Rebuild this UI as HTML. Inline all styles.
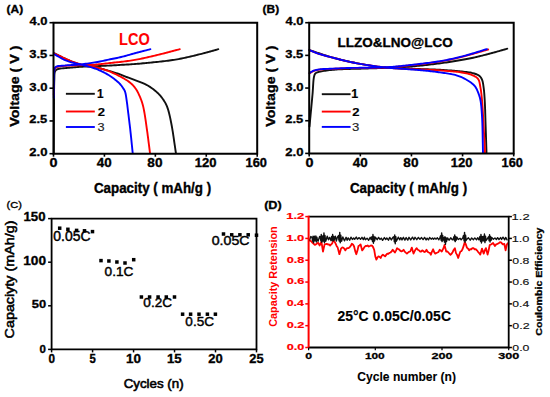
<!DOCTYPE html><html><head><meta charset="utf-8"><style>html,body{margin:0;padding:0;background:#fff;}svg{display:block;font-family:"Liberation Sans",sans-serif;}</style></head><body>
<svg width="550" height="397" viewBox="0 0 550 397">
<rect width="550" height="397" fill="#fff"/>
<path d="M53.80,53.00 L55.05,53.63 L56.30,54.28 L57.53,54.92 L58.77,55.57 L60.01,56.21 L61.25,56.85 L62.51,57.48 L63.78,58.10 L65.08,58.71 L66.40,59.30 L67.72,59.87 L69.07,60.45 L70.44,61.03 L71.82,61.60 L73.22,62.16 L74.63,62.70 L76.04,63.23 L77.45,63.72 L78.85,64.19 L80.23,64.62 L81.60,65.00 L82.96,65.33 L84.30,65.60 L85.64,65.82 L86.97,66.02 L88.29,66.19 L89.62,66.35 L90.95,66.52 L92.29,66.71 L93.64,66.93 L95.00,67.20 L96.35,67.50 L97.73,67.83 L99.13,68.17 L100.53,68.53 L101.95,68.91 L103.35,69.29 L104.75,69.68 L106.12,70.07 L107.45,70.46 L108.75,70.83 L110.00,71.20 L111.57,71.67 L113.11,72.13 L114.62,72.60 L116.07,73.07 L117.46,73.52 L118.77,73.97 L120.00,74.40 L121.34,74.90 L122.50,75.38 L123.67,75.87 L125.00,76.40 L126.08,76.81 L127.26,77.24 L128.50,77.70 L129.78,78.16 L131.10,78.64 L132.42,79.13 L133.73,79.61 L135.00,80.10 L136.29,80.60 L137.61,81.11 L138.96,81.63 L140.29,82.15 L141.59,82.67 L142.84,83.19 L144.02,83.70 L145.10,84.20 L146.47,84.87 L147.70,85.52 L148.85,86.19 L150.00,86.90 L151.15,87.67 L152.28,88.47 L153.39,89.31 L154.50,90.20 L155.48,91.02 L156.47,91.88 L157.45,92.77 L158.40,93.68 L159.30,94.60 L160.30,95.71 L161.25,96.85 L162.14,98.01 L163.00,99.20 L163.82,100.40 L164.59,101.63 L165.32,102.89 L166.00,104.20 L166.52,105.32 L166.99,106.44 L167.43,107.62 L167.86,108.89 L168.30,110.30 L168.61,111.37 L168.92,112.51 L169.22,113.71 L169.52,114.96 L169.82,116.27 L170.12,117.62 L170.42,119.02 L170.72,120.47 L171.01,121.95 L171.31,123.46 L171.60,125.00 L171.83,126.26 L172.06,127.57 L172.29,128.91 L172.52,130.30 L172.75,131.72 L172.98,133.17 L173.20,134.65 L173.43,136.15 L173.65,137.67 L173.88,139.20 L174.10,140.75 L174.33,142.30 L174.55,143.85 L174.78,145.40 L175.00,146.95 L175.22,148.48 L175.45,150.01 L175.67,151.51 L175.90,153.00" fill="none" stroke="#111111" stroke-width="1.9" stroke-linejoin="round" stroke-linecap="round"/>
<path d="M53.80,153.00 L53.81,151.51 L53.81,150.02 L53.82,148.51 L53.83,147.01 L53.83,145.49 L53.84,143.97 L53.84,142.45 L53.85,140.93 L53.86,139.40 L53.86,137.87 L53.87,136.34 L53.87,134.82 L53.88,133.30 L53.89,131.78 L53.89,130.26 L53.90,128.75 L53.90,127.24 L53.91,125.75 L53.92,124.26 L53.93,122.78 L53.93,121.30 L53.94,119.84 L53.95,118.39 L53.96,116.96 L53.96,115.54 L53.97,114.13 L53.98,112.73 L53.99,111.36 L54.00,110.00 L54.01,108.44 L54.02,106.86 L54.02,105.27 L54.03,103.68 L54.03,102.09 L54.04,100.50 L54.04,98.92 L54.05,97.35 L54.05,95.80 L54.06,94.27 L54.06,92.77 L54.07,91.29 L54.08,89.85 L54.10,88.44 L54.11,87.08 L54.13,85.76 L54.16,84.49 L54.19,83.28 L54.22,82.12 L54.26,81.03 L54.30,80.00 L54.36,78.21 L54.38,76.55 L54.41,75.04 L54.50,73.68 L54.68,72.50 L55.00,71.50 L55.78,70.26 L57.00,69.40 L57.94,69.03 L59.10,68.76 L60.43,68.56 L61.89,68.41 L63.41,68.28 L64.97,68.15 L66.50,68.00 L67.83,67.85 L69.22,67.71 L70.66,67.58 L72.13,67.45 L73.62,67.33 L75.13,67.21 L76.65,67.10 L78.15,66.99 L79.64,66.89 L81.10,66.80 L82.50,66.72 L83.89,66.65 L85.27,66.58 L86.65,66.52 L88.03,66.47 L89.41,66.42 L90.79,66.37 L92.19,66.32 L93.59,66.26 L95.00,66.20 L96.34,66.14 L97.67,66.08 L99.00,66.03 L100.32,65.97 L101.66,65.91 L103.00,65.85 L104.37,65.79 L105.77,65.72 L107.20,65.65 L108.68,65.58 L110.20,65.50 L111.52,65.43 L112.92,65.35 L114.39,65.27 L115.91,65.19 L117.47,65.10 L119.06,65.01 L120.66,64.91 L122.27,64.82 L123.88,64.72 L125.46,64.63 L127.01,64.53 L128.52,64.44 L129.98,64.34 L131.36,64.25 L132.67,64.16 L133.89,64.08 L135.00,64.00 L136.53,63.89 L137.80,63.79 L138.94,63.69 L140.10,63.58 L141.41,63.46 L143.00,63.30 L144.03,63.20 L145.15,63.09 L146.35,62.97 L147.63,62.85 L148.98,62.72 L150.39,62.59 L151.85,62.45 L153.37,62.30 L154.92,62.15 L156.51,61.99 L158.12,61.82 L159.75,61.65 L161.40,61.47 L163.04,61.28 L164.69,61.09 L166.32,60.90 L167.94,60.70 L169.53,60.49 L171.09,60.27 L172.61,60.05 L174.08,59.83 L175.50,59.60 L177.04,59.34 L178.57,59.06 L180.10,58.77 L181.62,58.47 L183.14,58.16 L184.65,57.84 L186.15,57.51 L187.64,57.18 L189.12,56.84 L190.58,56.50 L192.02,56.16 L193.45,55.81 L194.87,55.47 L196.26,55.13 L197.63,54.79 L198.98,54.45 L200.30,54.12 L201.60,53.80 L203.13,53.41 L204.61,53.03 L206.05,52.65 L207.45,52.26 L208.83,51.88 L210.19,51.50 L211.54,51.11 L212.88,50.73 L214.22,50.35 L215.56,49.97 L216.92,49.58 L218.30,49.20" fill="none" stroke="#111111" stroke-width="1.9" stroke-linejoin="round" stroke-linecap="round"/>
<path d="M53.80,53.30 L55.14,53.90 L56.51,54.53 L57.89,55.17 L59.27,55.81 L60.66,56.47 L62.06,57.12 L63.44,57.77 L64.82,58.40 L66.19,59.03 L67.53,59.63 L68.85,60.21 L70.14,60.76 L71.40,61.28 L72.62,61.76 L73.80,62.20 L75.34,62.73 L76.81,63.20 L78.23,63.62 L79.61,64.00 L80.96,64.35 L82.30,64.68 L83.64,64.99 L85.00,65.30 L86.45,65.61 L87.89,65.87 L89.32,66.10 L90.74,66.32 L92.16,66.55 L93.58,66.81 L95.00,67.10 L96.44,67.43 L97.87,67.77 L99.30,68.13 L100.73,68.51 L102.16,68.91 L103.58,69.34 L105.00,69.80 L106.26,70.24 L107.52,70.70 L108.78,71.19 L110.03,71.70 L111.28,72.22 L112.52,72.77 L113.76,73.33 L115.00,73.90 L116.28,74.51 L117.58,75.15 L118.89,75.81 L120.19,76.49 L121.47,77.17 L122.70,77.85 L123.89,78.53 L125.00,79.20 L126.33,80.02 L127.58,80.81 L128.76,81.62 L129.90,82.47 L131.00,83.40 L131.93,84.27 L132.83,85.19 L133.70,86.16 L134.54,87.17 L135.34,88.21 L136.10,89.30 L136.87,90.52 L137.59,91.82 L138.28,93.16 L138.92,94.53 L139.53,95.88 L140.10,97.20 L140.68,98.61 L141.22,99.99 L141.71,101.37 L142.17,102.77 L142.60,104.20 L142.93,105.43 L143.23,106.64 L143.50,107.86 L143.76,109.14 L144.02,110.50 L144.30,112.00 L144.50,113.13 L144.71,114.33 L144.91,115.60 L145.12,116.91 L145.33,118.28 L145.54,119.68 L145.75,121.11 L145.96,122.57 L146.17,124.05 L146.38,125.54 L146.59,127.03 L146.79,128.52 L147.00,130.00 L147.19,131.36 L147.38,132.74 L147.57,134.14 L147.75,135.55 L147.94,136.98 L148.13,138.42 L148.32,139.87 L148.50,141.32 L148.69,142.78 L148.88,144.25 L149.06,145.72 L149.25,147.18 L149.44,148.65 L149.63,150.11 L149.81,151.56 L150.00,153.00" fill="none" stroke="#ff0000" stroke-width="1.9" stroke-linejoin="round" stroke-linecap="round"/>
<path d="M53.80,95.00 L53.82,93.62 L53.83,92.23 L53.85,90.83 L53.86,89.42 L53.87,88.01 L53.89,86.61 L53.90,85.23 L53.92,83.87 L53.94,82.54 L53.97,81.25 L54.00,80.00 L54.02,78.41 L54.00,76.80 L53.99,75.21 L53.99,73.70 L54.05,72.30 L54.17,71.05 L54.40,70.00 L54.72,68.94 L55.16,68.12 L56.00,67.40 L56.70,67.06 L57.60,66.77 L58.70,66.52 L59.97,66.31 L61.38,66.13 L62.91,65.98 L64.53,65.86 L66.24,65.76 L67.99,65.67 L69.77,65.60 L71.56,65.54 L73.33,65.49 L75.05,65.44 L76.72,65.39 L78.30,65.34 L79.77,65.28 L81.10,65.20 L82.65,65.11 L84.13,65.04 L85.55,64.98 L86.92,64.94 L88.27,64.90 L89.59,64.86 L90.91,64.82 L92.25,64.76 L93.60,64.69 L95.00,64.60 L96.35,64.49 L97.69,64.38 L99.03,64.25 L100.37,64.11 L101.71,63.97 L103.07,63.82 L104.45,63.66 L105.84,63.50 L107.26,63.34 L108.71,63.17 L110.20,63.00 L111.54,62.85 L112.91,62.71 L114.31,62.56 L115.74,62.41 L117.19,62.26 L118.65,62.10 L120.13,61.95 L121.62,61.78 L123.11,61.61 L124.61,61.43 L126.10,61.25 L127.59,61.05 L129.08,60.85 L130.55,60.63 L132.00,60.40 L133.44,60.16 L134.88,59.91 L136.30,59.64 L137.73,59.37 L139.15,59.09 L140.56,58.81 L141.98,58.51 L143.40,58.21 L144.83,57.90 L146.26,57.58 L147.71,57.26 L149.16,56.92 L150.62,56.59 L152.10,56.25 L153.60,55.90 L154.92,55.59 L156.26,55.27 L157.60,54.94 L158.96,54.61 L160.32,54.27 L161.70,53.92 L163.08,53.56 L164.46,53.21 L165.85,52.84 L167.25,52.48 L168.65,52.11 L170.04,51.75 L171.44,51.38 L172.84,51.01 L174.24,50.64 L175.64,50.28 L177.03,49.91 L178.42,49.56 L179.80,49.20" fill="none" stroke="#ff0000" stroke-width="1.9" stroke-linejoin="round" stroke-linecap="round"/>
<path d="M53.80,54.00 L55.06,54.68 L56.29,55.38 L57.51,56.08 L58.73,56.79 L59.96,57.49 L61.20,58.18 L62.46,58.86 L63.76,59.51 L65.11,60.12 L66.50,60.70 L67.80,61.18 L69.18,61.63 L70.60,62.06 L72.08,62.47 L73.57,62.86 L75.09,63.23 L76.61,63.59 L78.11,63.93 L79.59,64.27 L81.03,64.61 L82.43,64.94 L83.75,65.27 L85.00,65.60 L86.59,66.03 L88.09,66.43 L89.52,66.81 L90.89,67.19 L92.25,67.58 L93.61,68.01 L95.00,68.50 L96.27,68.98 L97.55,69.49 L98.83,70.03 L100.11,70.60 L101.37,71.18 L102.61,71.77 L103.82,72.38 L105.00,73.00 L106.22,73.66 L107.40,74.34 L108.56,75.03 L109.70,75.74 L110.82,76.47 L111.92,77.22 L113.00,78.00 L114.08,78.81 L115.16,79.66 L116.24,80.53 L117.28,81.42 L118.27,82.30 L119.18,83.17 L120.00,84.00 L120.90,85.03 L121.67,86.03 L122.35,87.02 L123.00,88.00 L123.74,89.10 L124.41,90.20 L125.00,91.50 L125.36,92.67 L125.66,93.99 L125.92,95.43 L126.15,96.93 L126.37,98.47 L126.60,100.00 L126.79,101.28 L126.97,102.58 L127.14,103.89 L127.31,105.22 L127.47,106.59 L127.64,108.01 L127.81,109.47 L128.00,111.00 L128.16,112.29 L128.33,113.62 L128.50,114.99 L128.67,116.41 L128.85,117.85 L129.03,119.32 L129.22,120.81 L129.40,122.32 L129.58,123.85 L129.77,125.38 L129.95,126.92 L130.13,128.46 L130.30,130.00 L130.45,131.38 L130.61,132.77 L130.76,134.18 L130.91,135.59 L131.06,137.02 L131.21,138.46 L131.36,139.91 L131.51,141.36 L131.66,142.82 L131.81,144.28 L131.95,145.74 L132.10,147.20 L132.25,148.66 L132.40,150.11 L132.55,151.56 L132.70,153.00" fill="none" stroke="#0000ff" stroke-width="1.9" stroke-linejoin="round" stroke-linecap="round"/>
<path d="M53.80,98.00 L53.81,96.60 L53.83,95.18 L53.84,93.74 L53.85,92.29 L53.86,90.84 L53.87,89.39 L53.88,87.96 L53.90,86.54 L53.91,85.15 L53.93,83.79 L53.95,82.48 L53.97,81.21 L54.00,80.00 L54.03,78.37 L54.04,76.76 L54.05,75.20 L54.08,73.71 L54.14,72.34 L54.24,71.09 L54.40,70.00 L54.60,68.80 L54.86,67.82 L55.50,67.00 L56.31,66.55 L57.40,66.22 L58.72,65.99 L60.20,65.83 L61.78,65.72 L63.39,65.63 L64.99,65.53 L66.50,65.40 L67.78,65.28 L69.07,65.18 L70.36,65.11 L71.67,65.04 L73.00,64.98 L74.35,64.92 L75.72,64.84 L77.11,64.75 L78.54,64.64 L80.00,64.50 L81.33,64.35 L82.71,64.18 L84.15,64.00 L85.63,63.80 L87.14,63.59 L88.66,63.36 L90.18,63.14 L91.70,62.90 L93.20,62.66 L94.67,62.42 L96.09,62.19 L97.46,61.95 L98.77,61.72 L100.00,61.50 L101.64,61.19 L103.17,60.87 L104.63,60.55 L106.02,60.23 L107.40,59.92 L108.78,59.61 L110.20,59.30 L111.59,59.02 L112.94,58.75 L114.29,58.50 L115.64,58.23 L117.03,57.96 L118.48,57.65 L120.00,57.30 L121.21,57.00 L122.48,56.68 L123.80,56.33 L125.15,55.97 L126.52,55.59 L127.92,55.20 L129.32,54.80 L130.73,54.41 L132.13,54.02 L133.51,53.63 L134.87,53.26 L136.20,52.90 L137.66,52.51 L139.10,52.13 L140.53,51.76 L141.95,51.39 L143.36,51.03 L144.76,50.66 L146.17,50.30 L147.57,49.93 L148.98,49.57 L150.40,49.20" fill="none" stroke="#0000ff" stroke-width="1.9" stroke-linejoin="round" stroke-linecap="round"/>
<path d="M53.5,22.7 H257.2 V153.7 H53.5 Z" fill="none" stroke="#000" stroke-width="2"/>
<line x1="49.50" y1="22.70" x2="53.50" y2="22.70" stroke="#000" stroke-width="1.6"/>
<line x1="53.50" y1="153.70" x2="53.50" y2="156.70" stroke="#000" stroke-width="1.6"/>
<line x1="49.50" y1="55.45" x2="53.50" y2="55.45" stroke="#000" stroke-width="1.6"/>
<line x1="104.42" y1="153.70" x2="104.42" y2="156.70" stroke="#000" stroke-width="1.6"/>
<line x1="49.50" y1="88.20" x2="53.50" y2="88.20" stroke="#000" stroke-width="1.6"/>
<line x1="155.35" y1="153.70" x2="155.35" y2="156.70" stroke="#000" stroke-width="1.6"/>
<line x1="49.50" y1="120.95" x2="53.50" y2="120.95" stroke="#000" stroke-width="1.6"/>
<line x1="206.27" y1="153.70" x2="206.27" y2="156.70" stroke="#000" stroke-width="1.6"/>
<line x1="49.50" y1="153.70" x2="53.50" y2="153.70" stroke="#000" stroke-width="1.6"/>
<line x1="257.20" y1="153.70" x2="257.20" y2="156.70" stroke="#000" stroke-width="1.6"/>
<line x1="65.90" y1="93.80" x2="94.80" y2="93.80" stroke="#111111" stroke-width="1.9"/>
<line x1="65.90" y1="111.50" x2="94.80" y2="111.50" stroke="#ff0000" stroke-width="1.9"/>
<line x1="65.90" y1="127.00" x2="94.80" y2="127.00" stroke="#0000ff" stroke-width="1.9"/>
<path d="M309.40,50.10 L310.77,50.54 L312.13,50.99 L313.49,51.44 L314.84,51.89 L316.20,52.35 L317.55,52.80 L318.90,53.26 L320.25,53.71 L321.60,54.17 L322.96,54.62 L324.32,55.06 L325.69,55.50 L327.07,55.94 L328.45,56.37 L329.85,56.79 L331.25,57.20 L332.67,57.61 L334.10,58.00 L335.50,58.37 L336.92,58.74 L338.36,59.10 L339.81,59.47 L341.28,59.82 L342.76,60.17 L344.24,60.52 L345.74,60.86 L347.23,61.19 L348.73,61.52 L350.23,61.84 L351.72,62.16 L353.20,62.47 L354.68,62.77 L356.14,63.06 L357.59,63.35 L359.03,63.62 L360.44,63.89 L361.83,64.15 L363.20,64.40 L364.72,64.67 L366.18,64.93 L367.59,65.18 L368.96,65.42 L370.31,65.65 L371.65,65.86 L372.99,66.07 L374.33,66.27 L375.70,66.46 L377.10,66.64 L378.54,66.82 L380.04,67.00 L381.61,67.17 L383.26,67.33 L385.00,67.50 L386.17,67.60 L387.40,67.70 L388.67,67.79 L389.99,67.88 L391.36,67.97 L392.76,68.05 L394.20,68.13 L395.68,68.20 L397.19,68.27 L398.72,68.34 L400.28,68.40 L401.87,68.46 L403.47,68.52 L405.09,68.58 L406.72,68.64 L408.36,68.69 L410.01,68.74 L411.66,68.79 L413.32,68.84 L414.98,68.89 L416.63,68.94 L418.27,68.99 L419.90,69.04 L421.52,69.08 L423.12,69.13 L424.71,69.18 L426.27,69.23 L427.80,69.28 L429.31,69.33 L430.79,69.38 L432.23,69.43 L433.63,69.49 L435.00,69.55 L436.32,69.61 L437.60,69.67 L438.82,69.73 L440.00,69.80 L441.76,69.91 L443.46,70.01 L445.12,70.12 L446.72,70.22 L448.28,70.33 L449.80,70.43 L451.27,70.54 L452.70,70.65 L454.10,70.76 L455.46,70.88 L456.79,71.00 L458.08,71.12 L459.35,71.24 L460.59,71.37 L461.80,71.50 L463.36,71.67 L464.86,71.83 L466.30,71.99 L467.67,72.16 L469.00,72.34 L470.27,72.56 L471.51,72.80 L472.70,73.10 L474.20,73.52 L475.65,73.98 L477.01,74.50 L478.24,75.10 L479.30,75.80 L480.17,76.60 L480.88,77.49 L481.47,78.49 L482.00,79.60 L482.40,80.68 L482.72,81.86 L482.98,83.13 L483.19,84.47 L483.40,85.86 L483.60,87.30 L483.77,88.55 L483.92,89.82 L484.06,91.13 L484.18,92.49 L484.29,93.88 L484.40,95.33 L484.50,96.83 L484.60,98.38 L484.70,100.00 L484.77,101.25 L484.84,102.55 L484.90,103.89 L484.96,105.28 L485.02,106.70 L485.07,108.15 L485.13,109.63 L485.18,111.14 L485.22,112.66 L485.27,114.20 L485.32,115.75 L485.36,117.30 L485.41,118.85 L485.45,120.41 L485.50,121.95 L485.55,123.48 L485.60,125.00 L485.65,126.42 L485.70,127.85 L485.74,129.28 L485.79,130.72 L485.84,132.17 L485.89,133.61 L485.94,135.07 L485.98,136.52 L486.03,137.98 L486.08,139.45 L486.12,140.91 L486.17,142.37 L486.22,143.84 L486.26,145.30 L486.31,146.77 L486.36,148.23 L486.41,149.69 L486.45,151.15 L486.50,152.60" fill="none" stroke="#111111" stroke-width="1.9" stroke-linejoin="round" stroke-linecap="round"/>
<path d="M309.50,126.40 L309.64,124.94 L309.78,123.47 L309.92,121.98 L310.06,120.48 L310.20,118.97 L310.35,117.46 L310.49,115.94 L310.63,114.42 L310.78,112.91 L310.92,111.39 L311.06,109.89 L311.20,108.39 L311.34,106.91 L311.48,105.44 L311.62,103.99 L311.75,102.55 L311.89,101.14 L312.02,99.75 L312.14,98.39 L312.26,97.06 L312.38,95.76 L312.50,94.50 L312.64,92.90 L312.75,91.28 L312.86,89.66 L312.96,88.06 L313.05,86.47 L313.15,84.93 L313.24,83.44 L313.34,82.02 L313.46,80.68 L313.59,79.43 L313.73,78.29 L313.90,77.28 L314.10,76.40 L314.45,75.10 L314.85,74.11 L315.50,73.30 L316.43,72.70 L317.61,72.28 L318.98,71.94 L320.50,71.60 L321.56,71.36 L322.70,71.14 L323.91,70.92 L325.20,70.72 L326.55,70.53 L327.96,70.34 L329.42,70.17 L330.94,70.00 L332.50,69.85 L334.10,69.70 L335.31,69.60 L336.58,69.51 L337.91,69.42 L339.28,69.35 L340.70,69.28 L342.15,69.21 L343.64,69.16 L345.15,69.10 L346.68,69.05 L348.22,69.01 L349.78,68.96 L351.33,68.92 L352.89,68.88 L354.43,68.84 L355.96,68.81 L357.47,68.77 L358.96,68.73 L360.41,68.69 L361.83,68.65 L363.20,68.60 L364.75,68.55 L366.27,68.50 L367.78,68.45 L369.26,68.40 L370.73,68.36 L372.19,68.31 L373.64,68.27 L375.07,68.23 L376.50,68.19 L377.92,68.14 L379.34,68.10 L380.75,68.05 L382.16,68.00 L383.58,67.95 L385.00,67.90 L386.44,67.85 L387.85,67.80 L389.23,67.75 L390.60,67.71 L391.96,67.66 L393.32,67.62 L394.68,67.57 L396.05,67.51 L397.45,67.45 L398.87,67.39 L400.33,67.31 L401.84,67.22 L403.39,67.12 L405.00,67.00 L406.27,66.90 L407.58,66.80 L408.92,66.69 L410.30,66.57 L411.70,66.45 L413.13,66.32 L414.59,66.19 L416.06,66.05 L417.56,65.91 L419.07,65.76 L420.59,65.60 L422.13,65.45 L423.67,65.29 L425.22,65.12 L426.77,64.95 L428.32,64.78 L429.87,64.60 L431.41,64.42 L432.94,64.24 L434.46,64.06 L435.97,63.87 L437.46,63.68 L438.93,63.49 L440.38,63.30 L441.80,63.10 L443.29,62.89 L444.78,62.68 L446.28,62.46 L447.78,62.23 L449.28,62.00 L450.78,61.77 L452.27,61.53 L453.76,61.29 L455.24,61.05 L456.71,60.80 L458.18,60.55 L459.63,60.30 L461.07,60.04 L462.50,59.79 L463.91,59.53 L465.30,59.27 L466.67,59.01 L468.03,58.75 L469.36,58.49 L470.66,58.22 L471.95,57.96 L473.20,57.70 L474.81,57.35 L476.39,57.00 L477.92,56.65 L479.42,56.29 L480.88,55.93 L482.33,55.56 L483.74,55.20 L485.14,54.83 L486.53,54.46 L487.90,54.10 L489.27,53.73 L490.63,53.36 L492.00,53.00 L493.45,52.61 L494.88,52.22 L496.29,51.83 L497.68,51.44 L499.07,51.05 L500.44,50.66 L501.81,50.27 L503.17,49.87 L504.54,49.48 L505.92,49.09 L507.30,48.70" fill="none" stroke="#111111" stroke-width="1.9" stroke-linejoin="round" stroke-linecap="round"/>
<path d="M309.40,50.10 L310.65,50.59 L311.88,51.09 L313.10,51.58 L314.32,52.08 L315.56,52.57 L316.83,53.06 L318.14,53.54 L319.50,54.00 L320.72,54.39 L321.98,54.77 L323.27,55.15 L324.60,55.52 L325.94,55.88 L327.30,56.24 L328.67,56.60 L330.04,56.95 L331.41,57.30 L332.76,57.65 L334.10,58.00 L335.55,58.38 L337.00,58.76 L338.45,59.13 L339.89,59.50 L341.34,59.87 L342.79,60.24 L344.24,60.59 L345.69,60.94 L347.14,61.27 L348.60,61.60 L350.04,61.91 L351.46,62.21 L352.88,62.51 L354.29,62.79 L355.70,63.06 L357.14,63.33 L358.60,63.60 L360.09,63.87 L361.62,64.13 L363.20,64.40 L364.53,64.62 L365.89,64.84 L367.29,65.07 L368.71,65.30 L370.16,65.52 L371.63,65.75 L373.11,65.97 L374.61,66.19 L376.11,66.40 L377.61,66.61 L379.11,66.81 L380.61,67.00 L382.09,67.18 L383.55,67.35 L385.00,67.50 L386.47,67.64 L387.91,67.77 L389.33,67.89 L390.74,67.99 L392.14,68.09 L393.54,68.18 L394.95,68.26 L396.37,68.33 L397.81,68.41 L399.27,68.48 L400.77,68.56 L402.30,68.63 L403.87,68.71 L405.50,68.80 L406.77,68.87 L408.09,68.93 L409.44,69.00 L410.82,69.06 L412.24,69.12 L413.68,69.18 L415.15,69.24 L416.63,69.30 L418.13,69.36 L419.64,69.42 L421.16,69.47 L422.69,69.53 L424.21,69.59 L425.73,69.66 L427.25,69.72 L428.76,69.78 L430.25,69.85 L431.72,69.92 L433.18,69.99 L434.61,70.07 L436.01,70.15 L437.37,70.23 L438.71,70.31 L440.00,70.40 L441.62,70.51 L443.22,70.63 L444.80,70.74 L446.37,70.85 L447.92,70.97 L449.45,71.09 L450.95,71.21 L452.43,71.34 L453.87,71.47 L455.29,71.62 L456.67,71.77 L458.01,71.93 L459.32,72.11 L460.58,72.30 L461.80,72.50 L463.38,72.78 L464.90,73.07 L466.36,73.37 L467.76,73.68 L469.10,74.03 L470.37,74.41 L471.57,74.83 L472.70,75.30 L474.01,75.92 L475.24,76.56 L476.36,77.28 L477.35,78.11 L478.20,79.10 L478.82,80.20 L479.28,81.45 L479.62,82.82 L479.88,84.27 L480.13,85.77 L480.40,87.30 L480.63,88.57 L480.85,89.87 L481.04,91.21 L481.22,92.59 L481.39,94.00 L481.55,95.44 L481.70,96.93 L481.85,98.44 L482.00,100.00 L482.12,101.28 L482.23,102.57 L482.33,103.90 L482.43,105.24 L482.52,106.61 L482.61,108.00 L482.70,109.41 L482.78,110.85 L482.87,112.31 L482.95,113.80 L483.03,115.31 L483.12,116.85 L483.21,118.41 L483.30,120.00 L483.38,121.32 L483.45,122.67 L483.53,124.04 L483.61,125.44 L483.68,126.87 L483.76,128.32 L483.84,129.79 L483.91,131.27 L483.99,132.77 L484.07,134.28 L484.15,135.80 L484.22,137.33 L484.30,138.87 L484.38,140.41 L484.46,141.95 L484.54,143.49 L484.61,145.03 L484.69,146.57 L484.77,148.09 L484.85,149.61 L484.92,151.11 L485.00,152.60" fill="none" stroke="#ff0000" stroke-width="1.9" stroke-linejoin="round" stroke-linecap="round"/>
<path d="M309.50,73.40 L310.50,72.77 L311.48,72.13 L312.50,71.52 L313.60,71.00 L314.65,70.62 L315.73,70.31 L316.88,70.04 L318.12,69.81 L319.50,69.60 L320.69,69.45 L322.00,69.33 L323.40,69.23 L324.87,69.15 L326.39,69.08 L327.95,69.03 L329.51,68.97 L331.08,68.92 L332.61,68.86 L334.10,68.80 L335.52,68.73 L336.90,68.67 L338.25,68.60 L339.59,68.54 L340.94,68.48 L342.33,68.42 L343.77,68.36 L345.28,68.31 L346.88,68.25 L348.60,68.20 L349.76,68.17 L350.99,68.14 L352.27,68.11 L353.61,68.09 L355.00,68.07 L356.43,68.05 L357.90,68.03 L359.41,68.01 L360.94,67.99 L362.50,67.98 L364.07,67.96 L365.65,67.94 L367.25,67.93 L368.84,67.91 L370.43,67.89 L372.01,67.86 L373.58,67.84 L375.13,67.81 L376.66,67.78 L378.15,67.74 L379.61,67.70 L381.03,67.66 L382.41,67.61 L383.73,67.56 L385.00,67.50 L386.60,67.42 L388.12,67.33 L389.57,67.25 L390.98,67.16 L392.34,67.06 L393.68,66.96 L395.00,66.86 L396.32,66.74 L397.66,66.63 L399.02,66.50 L400.43,66.36 L401.88,66.22 L403.40,66.06 L405.00,65.90 L406.28,65.77 L407.60,65.63 L408.97,65.48 L410.38,65.33 L411.82,65.17 L413.30,65.01 L414.80,64.84 L416.32,64.66 L417.87,64.49 L419.43,64.30 L421.00,64.12 L422.58,63.93 L424.16,63.73 L425.74,63.53 L427.31,63.33 L428.87,63.13 L430.42,62.92 L431.95,62.71 L433.46,62.50 L434.94,62.29 L436.39,62.07 L437.80,61.85 L439.18,61.64 L440.51,61.42 L441.80,61.20 L443.37,60.92 L444.88,60.64 L446.34,60.36 L447.76,60.08 L449.15,59.80 L450.51,59.51 L451.85,59.21 L453.17,58.91 L454.49,58.60 L455.82,58.29 L457.15,57.97 L458.49,57.64 L459.86,57.30 L461.26,56.96 L462.70,56.60 L464.06,56.26 L465.43,55.90 L466.81,55.54 L468.21,55.16 L469.61,54.78 L471.02,54.39 L472.44,53.99 L473.87,53.59 L475.30,53.18 L476.74,52.77 L478.17,52.36 L479.61,51.94 L481.05,51.53 L482.49,51.12 L483.92,50.71 L485.35,50.30 L486.78,49.90 L488.20,49.50" fill="none" stroke="#ff0000" stroke-width="1.9" stroke-linejoin="round" stroke-linecap="round"/>
<path d="M309.40,50.10 L310.65,50.59 L311.88,51.09 L313.10,51.58 L314.32,52.08 L315.56,52.57 L316.83,53.06 L318.14,53.54 L319.50,54.00 L320.72,54.39 L321.98,54.77 L323.27,55.15 L324.60,55.52 L325.94,55.88 L327.30,56.24 L328.67,56.60 L330.04,56.95 L331.41,57.30 L332.76,57.65 L334.10,58.00 L335.55,58.38 L337.00,58.76 L338.45,59.13 L339.89,59.50 L341.34,59.87 L342.79,60.24 L344.24,60.59 L345.69,60.94 L347.14,61.27 L348.60,61.60 L350.04,61.91 L351.46,62.21 L352.88,62.51 L354.29,62.79 L355.70,63.06 L357.14,63.33 L358.60,63.60 L360.09,63.87 L361.62,64.13 L363.20,64.40 L364.53,64.62 L365.89,64.84 L367.29,65.07 L368.71,65.29 L370.16,65.52 L371.63,65.74 L373.11,65.96 L374.61,66.18 L376.11,66.39 L377.61,66.60 L379.11,66.80 L380.61,66.99 L382.09,67.17 L383.55,67.34 L385.00,67.50 L386.48,67.65 L387.96,67.79 L389.44,67.92 L390.91,68.03 L392.38,68.14 L393.85,68.24 L395.32,68.33 L396.78,68.42 L398.24,68.51 L399.70,68.60 L401.15,68.70 L402.60,68.79 L404.05,68.89 L405.50,69.00 L406.91,69.11 L408.33,69.22 L409.76,69.33 L411.18,69.43 L412.61,69.54 L414.03,69.65 L415.44,69.76 L416.85,69.87 L418.25,69.99 L419.63,70.10 L421.00,70.22 L422.35,70.35 L423.69,70.47 L425.00,70.60 L426.44,70.75 L427.84,70.89 L429.22,71.04 L430.58,71.19 L431.92,71.34 L433.25,71.50 L434.58,71.66 L435.92,71.83 L437.26,72.01 L438.62,72.20 L440.00,72.40 L441.36,72.60 L442.74,72.79 L444.14,72.98 L445.56,73.17 L446.98,73.38 L448.40,73.59 L449.80,73.82 L451.19,74.06 L452.55,74.33 L453.88,74.62 L455.17,74.95 L456.40,75.30 L457.91,75.79 L459.38,76.32 L460.80,76.89 L462.18,77.49 L463.52,78.13 L464.82,78.79 L466.08,79.48 L467.30,80.20 L468.53,80.96 L469.74,81.76 L470.92,82.58 L472.04,83.44 L473.09,84.33 L474.05,85.25 L474.90,86.20 L475.77,87.41 L476.49,88.68 L477.11,90.00 L477.66,91.34 L478.20,92.70 L478.65,93.84 L479.05,94.97 L479.43,96.12 L479.78,97.32 L480.10,98.60 L480.40,100.00 L480.62,101.19 L480.82,102.43 L480.99,103.72 L481.15,105.07 L481.30,106.47 L481.43,107.92 L481.55,109.43 L481.67,110.99 L481.78,112.60 L481.89,114.27 L482.00,116.00 L482.07,117.19 L482.14,118.42 L482.20,119.70 L482.26,121.01 L482.31,122.36 L482.36,123.75 L482.40,125.16 L482.45,126.60 L482.49,128.07 L482.52,129.56 L482.56,131.07 L482.59,132.60 L482.62,134.13 L482.65,135.68 L482.68,137.24 L482.71,138.80 L482.74,140.37 L482.77,141.93 L482.80,143.49 L482.83,145.04 L482.86,146.58 L482.89,148.11 L482.93,149.63 L482.96,151.12 L483.00,152.60" fill="none" stroke="#0000ff" stroke-width="1.9" stroke-linejoin="round" stroke-linecap="round"/>
<path d="M309.50,73.00 L310.50,72.40 L311.49,71.78 L312.50,71.20 L313.60,70.70 L314.65,70.34 L315.73,70.05 L316.88,69.81 L318.12,69.60 L319.50,69.40 L320.69,69.26 L322.00,69.14 L323.40,69.04 L324.87,68.96 L326.39,68.89 L327.95,68.83 L329.52,68.78 L331.08,68.72 L332.61,68.67 L334.10,68.60 L335.52,68.53 L336.90,68.47 L338.25,68.40 L339.59,68.34 L340.94,68.28 L342.33,68.22 L343.77,68.16 L345.28,68.11 L346.88,68.05 L348.60,68.00 L349.76,67.97 L350.99,67.94 L352.27,67.91 L353.61,67.89 L355.00,67.87 L356.43,67.85 L357.90,67.83 L359.41,67.82 L360.94,67.80 L362.50,67.79 L364.07,67.77 L365.65,67.75 L367.25,67.74 L368.84,67.72 L370.43,67.70 L372.01,67.67 L373.58,67.65 L375.13,67.62 L376.66,67.59 L378.15,67.55 L379.61,67.51 L381.03,67.47 L382.41,67.42 L383.73,67.36 L385.00,67.30 L386.60,67.21 L388.12,67.12 L389.57,67.03 L390.98,66.93 L392.34,66.83 L393.68,66.72 L395.00,66.61 L396.32,66.49 L397.66,66.36 L399.02,66.22 L400.43,66.08 L401.88,65.93 L403.40,65.77 L405.00,65.60 L406.28,65.46 L407.60,65.32 L408.97,65.17 L410.38,65.02 L411.82,64.86 L413.30,64.70 L414.80,64.53 L416.32,64.35 L417.87,64.17 L419.43,63.99 L421.00,63.81 L422.58,63.62 L424.16,63.42 L425.74,63.22 L427.31,63.02 L428.87,62.82 L430.42,62.61 L431.95,62.41 L433.46,62.20 L434.94,61.98 L436.39,61.77 L437.80,61.55 L439.18,61.34 L440.51,61.12 L441.80,60.90 L443.37,60.62 L444.88,60.35 L446.35,60.07 L447.78,59.79 L449.17,59.50 L450.53,59.22 L451.88,58.93 L453.21,58.63 L454.54,58.32 L455.86,58.01 L457.19,57.69 L458.53,57.36 L459.89,57.02 L461.28,56.66 L462.70,56.30 L464.08,55.94 L465.48,55.56 L466.88,55.17 L468.29,54.76 L469.70,54.35 L471.13,53.93 L472.55,53.50 L473.99,53.06 L475.42,52.62 L476.86,52.18 L478.30,51.73 L479.73,51.29 L481.17,50.84 L482.61,50.40 L484.04,49.96 L485.47,49.53 L486.90,49.10" fill="none" stroke="#0000ff" stroke-width="1.9" stroke-linejoin="round" stroke-linecap="round"/>
<path d="M309.2,22.7 H513.7 V153.4 H309.2 Z" fill="none" stroke="#000" stroke-width="2"/>
<line x1="305.20" y1="22.70" x2="309.20" y2="22.70" stroke="#000" stroke-width="1.6"/>
<line x1="309.20" y1="153.40" x2="309.20" y2="156.40" stroke="#000" stroke-width="1.6"/>
<line x1="305.20" y1="55.38" x2="309.20" y2="55.38" stroke="#000" stroke-width="1.6"/>
<line x1="360.32" y1="153.40" x2="360.32" y2="156.40" stroke="#000" stroke-width="1.6"/>
<line x1="305.20" y1="88.05" x2="309.20" y2="88.05" stroke="#000" stroke-width="1.6"/>
<line x1="411.45" y1="153.40" x2="411.45" y2="156.40" stroke="#000" stroke-width="1.6"/>
<line x1="305.20" y1="120.73" x2="309.20" y2="120.73" stroke="#000" stroke-width="1.6"/>
<line x1="462.58" y1="153.40" x2="462.58" y2="156.40" stroke="#000" stroke-width="1.6"/>
<line x1="305.20" y1="153.40" x2="309.20" y2="153.40" stroke="#000" stroke-width="1.6"/>
<line x1="513.70" y1="153.40" x2="513.70" y2="156.40" stroke="#000" stroke-width="1.6"/>
<line x1="321.80" y1="94.20" x2="350.60" y2="94.20" stroke="#111111" stroke-width="1.9"/>
<line x1="321.80" y1="111.60" x2="350.60" y2="111.60" stroke="#ff0000" stroke-width="1.9"/>
<line x1="321.80" y1="126.90" x2="350.60" y2="126.90" stroke="#0000ff" stroke-width="1.9"/>
<path d="M51.6,218.6 H256.5 V349.4 H51.6 Z" fill="none" stroke="#000" stroke-width="1.8"/>
<line x1="48.10" y1="349.40" x2="51.60" y2="349.40" stroke="#000" stroke-width="1.5"/>
<line x1="48.10" y1="305.80" x2="51.60" y2="305.80" stroke="#000" stroke-width="1.5"/>
<line x1="48.10" y1="262.20" x2="51.60" y2="262.20" stroke="#000" stroke-width="1.5"/>
<line x1="48.10" y1="218.60" x2="51.60" y2="218.60" stroke="#000" stroke-width="1.5"/>
<line x1="51.60" y1="349.40" x2="51.60" y2="352.40" stroke="#000" stroke-width="1.5"/>
<line x1="92.58" y1="349.40" x2="92.58" y2="352.40" stroke="#000" stroke-width="1.5"/>
<line x1="133.56" y1="349.40" x2="133.56" y2="352.40" stroke="#000" stroke-width="1.5"/>
<line x1="174.54" y1="349.40" x2="174.54" y2="352.40" stroke="#000" stroke-width="1.5"/>
<line x1="215.52" y1="349.40" x2="215.52" y2="352.40" stroke="#000" stroke-width="1.5"/>
<line x1="256.50" y1="349.40" x2="256.50" y2="352.40" stroke="#000" stroke-width="1.5"/>
<text transform="translate(53.36,241.18) scale(0.9957,1)" font-size="13.98" font-weight="normal" fill="#000" stroke="#000" stroke-width="0.45">0.05C</text>
<text transform="translate(104.57,275.88) scale(0.9974,1)" font-size="13.68" font-weight="normal" fill="#000" stroke="#000" stroke-width="0.45">0.1C</text>
<text transform="translate(143.37,307.38) scale(1.0119,1)" font-size="13.39" font-weight="normal" fill="#000" stroke="#000" stroke-width="0.44">0.2C</text>
<text transform="translate(185.37,326.17) scale(0.9902,1)" font-size="13.68" font-weight="normal" fill="#000" stroke="#000" stroke-width="0.45">0.5C</text>
<text transform="translate(211.75,245.38) scale(1.0566,1)" font-size="13.39" font-weight="normal" fill="#000" stroke="#000" stroke-width="0.43">0.05C</text>
<rect x="57.95" y="226.45" width="3.5" height="3.5" fill="#000"/>
<rect x="66.15" y="227.55" width="3.5" height="3.5" fill="#000"/>
<rect x="74.85" y="228.65" width="3.5" height="3.5" fill="#000"/>
<rect x="82.75" y="229.05" width="3.5" height="3.5" fill="#000"/>
<rect x="90.75" y="229.85" width="3.5" height="3.5" fill="#000"/>
<rect x="99.25" y="258.85" width="3.5" height="3.5" fill="#000"/>
<rect x="107.15" y="259.25" width="3.5" height="3.5" fill="#000"/>
<rect x="115.15" y="260.25" width="3.5" height="3.5" fill="#000"/>
<rect x="123.25" y="261.25" width="3.5" height="3.5" fill="#000"/>
<rect x="131.95" y="257.95" width="3.5" height="3.5" fill="#000"/>
<rect x="139.65" y="295.25" width="3.5" height="3.5" fill="#000"/>
<rect x="147.85" y="295.25" width="3.5" height="3.5" fill="#000"/>
<rect x="156.35" y="295.25" width="3.5" height="3.5" fill="#000"/>
<rect x="164.55" y="295.25" width="3.5" height="3.5" fill="#000"/>
<rect x="172.75" y="295.25" width="3.5" height="3.5" fill="#000"/>
<rect x="180.85" y="312.45" width="3.5" height="3.5" fill="#000"/>
<rect x="188.85" y="312.45" width="3.5" height="3.5" fill="#000"/>
<rect x="197.25" y="312.45" width="3.5" height="3.5" fill="#000"/>
<rect x="205.65" y="312.45" width="3.5" height="3.5" fill="#000"/>
<rect x="213.65" y="312.45" width="3.5" height="3.5" fill="#000"/>
<rect x="221.75" y="232.25" width="3.5" height="3.5" fill="#000"/>
<rect x="229.95" y="233.05" width="3.5" height="3.5" fill="#000"/>
<rect x="238.15" y="233.05" width="3.5" height="3.5" fill="#000"/>
<rect x="246.45" y="233.05" width="3.5" height="3.5" fill="#000"/>
<rect x="254.75" y="233.45" width="3.5" height="3.5" fill="#000"/>
<path d="M309.40,240.00 L310.45,240.72 L311.50,241.60 L312.60,242.80 L313.70,243.80 L314.80,244.78 L315.90,244.40 L317.00,243.50 L318.10,242.70 L319.70,245.50 L321.40,241.60 L323.00,251.50 L324.60,244.40 L325.70,244.11 L326.80,243.80 L327.90,244.51 L329.00,244.43 L330.10,245.50 L331.20,244.42 L332.30,243.30 L333.40,239.50 L334.45,241.61 L335.50,243.30 L336.60,245.92 L337.70,247.60 L339.40,254.20 L341.00,248.70 L342.10,247.50 L343.20,247.60 L344.30,248.69 L345.40,250.40 L346.45,248.65 L347.50,248.20 L348.60,248.15 L349.70,247.10 L350.80,245.76 L351.90,243.80 L353.00,244.42 L354.10,246.50 L355.20,251.12 L356.30,254.20 L357.40,250.84 L358.50,246.00 L359.55,245.45 L360.60,244.40 L362.20,250.40 L363.30,248.93 L364.40,247.10 L365.45,246.00 L366.50,246.00 L367.60,245.47 L368.70,246.50 L369.80,246.05 L370.90,245.50 L372.00,245.60 L373.10,247.10 L374.20,249.80 L375.30,256.40 L376.40,259.60 L377.45,257.50 L378.50,256.40 L379.60,256.79 L380.70,258.00 L381.80,255.60 L382.90,254.70 L384.00,255.49 L385.10,256.40 L386.20,254.90 L387.30,253.60 L388.37,253.78 L389.43,252.90 L390.50,252.50 L391.60,251.37 L392.70,249.80 L393.80,251.15 L394.90,252.50 L396.00,250.61 L397.10,248.20 L398.20,249.03 L399.30,249.65 L400.40,250.90 L401.47,251.33 L402.53,250.96 L403.60,249.80 L404.70,251.61 L405.80,252.67 L406.90,253.60 L408.00,252.60 L409.10,251.77 L410.20,251.50 L411.80,247.60 L413.50,253.60 L414.57,251.46 L415.63,249.31 L416.70,248.20 L417.80,249.73 L418.90,250.24 L420.00,251.50 L421.10,251.50 L422.20,250.40 L423.30,251.02 L424.40,252.00 L425.45,251.63 L426.50,249.80 L427.60,251.71 L428.70,252.50 L429.80,252.80 L430.90,254.70 L432.00,251.54 L433.10,249.30 L434.20,252.11 L435.30,253.60 L436.40,253.00 L437.50,252.50 L438.55,251.92 L439.60,249.80 L440.70,250.49 L441.80,251.50 L443.50,248.20 L444.50,244.90 L446.20,251.50 L447.30,251.32 L448.40,252.50 L449.45,253.81 L450.50,254.70 L451.60,253.80 L452.70,252.00 L453.80,249.73 L454.90,248.20 L456.00,253.10 L457.10,254.89 L458.20,258.00 L459.30,254.48 L460.40,251.50 L461.45,251.14 L462.50,249.30 L463.60,246.16 L464.70,242.20 L465.80,244.29 L466.90,247.60 L468.00,248.59 L469.10,250.40 L470.20,249.21 L471.30,249.30 L472.40,248.05 L473.50,248.20 L474.63,249.38 L475.77,249.08 L476.90,250.30 L478.03,251.83 L479.17,253.08 L480.30,254.60 L482.00,248.60 L483.70,253.70 L484.80,250.41 L485.90,248.10 L487.60,254.60 L488.65,250.22 L489.70,245.10 L491.40,244.30 L493.10,243.00 L494.90,246.00 L496.15,244.36 L497.40,243.90 L498.70,243.23 L500.00,242.10 L501.30,242.59 L502.60,244.30 L504.30,243.90 L505.60,250.30 L506.90,244.30 L508.10,243.00" fill="none" stroke="#ff0000" stroke-width="1.8" stroke-linejoin="round" stroke-linecap="round"/>
<path d="M309.20,240.84 L310.84,236.57 L312.00,237.45 L312.57,240.34 L312.60,241.10 L313.05,236.20 L313.55,242.70 L314.10,237.32 L314.33,236.28 L314.60,240.70 L314.80,237.35 L315.40,240.68 L315.42,239.94 L315.85,236.00 L316.35,242.00 L316.85,237.88 L316.90,237.22 L317.40,240.35 L318.03,241.15 L319.64,236.47 L320.20,236.60 L320.75,239.73 L320.80,240.80 L321.25,234.50 L321.75,242.20 L321.75,237.52 L322.30,236.39 L322.80,240.45 L322.90,235.80 L322.93,241.07 L323.50,241.10 L323.95,232.90 L324.16,236.93 L324.45,242.70 L325.00,235.51 L325.50,240.70 L325.70,241.19 L327.25,236.29 L328.49,239.80 L329.61,237.36 L331.09,240.72 L331.60,236.60 L332.20,240.08 L332.36,236.43 L332.65,234.50 L333.15,241.00 L333.70,236.39 L333.74,240.37 L334.20,239.85 L335.31,236.14 L336.33,241.02 L337.34,237.24 L338.70,235.55 L338.80,239.58 L339.30,241.10 L339.75,232.40 L339.95,237.55 L340.25,242.70 L340.80,235.23 L341.30,240.70 L341.55,241.20 L342.83,236.96 L344.45,240.85 L346.09,237.27 L347.12,240.23 L348.19,237.89 L349.68,240.20 L350.95,237.19 L352.39,239.47 L353.64,238.09 L354.70,239.28 L356.25,237.10 L357.38,239.16 L359.17,237.66 L360.50,239.38 L361.97,237.31 L363.34,239.61 L364.38,237.20 L365.41,239.69 L367.08,238.14 L368.66,240.24 L370.17,237.35 L371.25,239.62 L371.90,236.60 L372.37,237.29 L372.50,241.46 L372.95,234.50 L373.45,243.30 L373.61,239.64 L374.00,236.39 L374.50,241.00 L375.41,237.28 L377.19,239.64 L378.58,237.42 L379.96,239.45 L381.28,238.12 L382.59,240.29 L384.35,237.55 L385.75,239.51 L386.82,237.97 L388.45,240.14 L389.74,237.36 L391.36,239.93 L392.89,237.39 L393.70,236.85 L394.18,239.95 L394.30,241.76 L394.75,235.00 L395.25,243.80 L395.41,237.72 L395.80,236.66 L396.30,241.25 L397.02,239.93 L398.26,237.17 L399.78,239.80 L400.79,237.64 L401.99,239.91 L403.36,237.32 L404.87,240.06 L406.15,237.53 L407.74,240.09 L409.02,237.29 L410.72,239.93 L412.50,237.15 L413.91,239.74 L415.05,237.30 L416.80,239.67 L418.35,237.44 L419.94,239.31 L421.56,237.60 L423.09,239.60 L424.59,237.37 L426.10,239.96 L427.12,238.11 L428.48,239.88 L429.65,237.48 L431.16,239.15 L432.53,238.03 L433.58,239.26 L434.83,238.08 L435.98,239.14 L437.36,237.84 L438.85,239.81 L440.04,237.22 L440.60,235.80 L441.04,239.59 L441.20,240.44 L441.65,232.90 L442.15,241.60 L442.26,237.81 L442.70,235.51 L443.20,240.15 L443.35,240.10 L443.90,237.70 L444.50,242.12 L444.65,238.26 L444.95,236.70 L445.45,244.40 L446.00,237.60 L446.14,239.21 L446.50,241.55 L447.58,237.89 L449.04,240.25 L450.70,237.80 L452.35,239.87 L453.64,238.13 L453.70,236.85 L454.30,240.44 L454.75,235.00 L455.12,239.78 L455.25,241.60 L455.80,236.66 L456.30,240.15 L456.89,237.14 L458.37,239.52 L460.09,238.30 L461.17,239.78 L462.67,238.13 L463.50,235.55 L464.10,240.80 L464.17,240.17 L464.55,232.40 L465.05,242.20 L465.47,237.78 L465.60,235.23 L466.10,240.45 L466.65,239.45 L468.43,237.84 L470.20,240.20 L471.67,237.99 L473.46,239.70 L474.79,237.92 L476.58,239.69 L477.81,237.73 L478.91,239.85 L479.90,236.55 L480.26,237.95 L480.50,241.28 L480.95,234.40 L481.45,243.00 L481.89,240.09 L482.00,236.34 L482.50,240.85 L482.90,237.66 L483.40,236.35 L484.00,241.04 L484.12,240.22 L484.45,234.00 L484.95,242.60 L485.50,236.12 L485.74,238.01 L486.00,240.65 L486.96,239.29 L488.50,236.75 L488.75,237.95 L489.10,240.68 L489.55,234.80 L490.05,242.00 L490.23,239.67 L490.60,236.56 L491.10,240.35 L491.75,237.58 L493.34,239.24 L494.95,237.94 L496.38,239.50 L497.62,237.66 L498.99,239.53 L500.58,237.59 L501.61,239.40 L502.98,237.20 L504.69,239.75 L505.70,237.37 L507.04,239.79" fill="none" stroke="#111111" stroke-width="1.4" stroke-linejoin="round" stroke-linecap="round"/>
<path d="M308.6,216.6 H508.7 V347.5 H308.6" fill="none" stroke="#000" stroke-width="1.8"/>
<line x1="308.60" y1="215.70" x2="308.60" y2="347.50" stroke="#ff0000" stroke-width="2"/>
<line x1="305.30" y1="347.50" x2="308.60" y2="347.50" stroke="#ff0000" stroke-width="1.5"/>
<line x1="508.70" y1="347.50" x2="511.90" y2="347.50" stroke="#000" stroke-width="1.5"/>
<line x1="305.30" y1="325.68" x2="308.60" y2="325.68" stroke="#ff0000" stroke-width="1.5"/>
<line x1="508.70" y1="325.68" x2="511.90" y2="325.68" stroke="#000" stroke-width="1.5"/>
<line x1="305.30" y1="303.87" x2="308.60" y2="303.87" stroke="#ff0000" stroke-width="1.5"/>
<line x1="508.70" y1="303.87" x2="511.90" y2="303.87" stroke="#000" stroke-width="1.5"/>
<line x1="305.30" y1="282.05" x2="308.60" y2="282.05" stroke="#ff0000" stroke-width="1.5"/>
<line x1="508.70" y1="282.05" x2="511.90" y2="282.05" stroke="#000" stroke-width="1.5"/>
<line x1="305.30" y1="260.23" x2="308.60" y2="260.23" stroke="#ff0000" stroke-width="1.5"/>
<line x1="508.70" y1="260.23" x2="511.90" y2="260.23" stroke="#000" stroke-width="1.5"/>
<line x1="305.30" y1="238.42" x2="308.60" y2="238.42" stroke="#ff0000" stroke-width="1.5"/>
<line x1="508.70" y1="238.42" x2="511.90" y2="238.42" stroke="#000" stroke-width="1.5"/>
<line x1="305.30" y1="216.60" x2="308.60" y2="216.60" stroke="#ff0000" stroke-width="1.5"/>
<line x1="508.70" y1="216.60" x2="511.90" y2="216.60" stroke="#000" stroke-width="1.5"/>
<line x1="308.60" y1="347.50" x2="308.60" y2="350.30" stroke="#000" stroke-width="1.2"/>
<line x1="375.30" y1="347.50" x2="375.30" y2="350.30" stroke="#000" stroke-width="1.2"/>
<line x1="442.00" y1="347.50" x2="442.00" y2="350.30" stroke="#000" stroke-width="1.2"/>
<line x1="508.70" y1="347.50" x2="508.70" y2="350.30" stroke="#000" stroke-width="1.2"/>
<text transform="translate(6.58,13.00) scale(1.0295,1)" font-size="11.62" font-weight="bold" fill="#000" stroke="#000" stroke-width="0.34">(A)</text>
<text transform="translate(29.56,25.32) scale(1.1709,1)" font-size="11.05" font-weight="bold" fill="#000" stroke="#000" stroke-width="0.30">4.0</text>
<text transform="translate(29.34,57.53) scale(1.1407,1)" font-size="11.34" font-weight="bold" fill="#000" stroke="#000" stroke-width="0.31">3.5</text>
<text transform="translate(29.34,90.53) scale(1.1703,1)" font-size="11.20" font-weight="bold" fill="#000" stroke="#000" stroke-width="0.30">3.0</text>
<text transform="translate(29.34,122.73) scale(1.1407,1)" font-size="11.34" font-weight="bold" fill="#000" stroke="#000" stroke-width="0.31">2.5</text>
<text transform="translate(29.34,155.62) scale(1.1404,1)" font-size="11.49" font-weight="bold" fill="#000" stroke="#000" stroke-width="0.31">2.0</text>
<text transform="translate(49.40,167.42) scale(1.2056,1)" font-size="11.93" font-weight="bold" fill="#000" stroke="#000" stroke-width="0.29">0</text>
<text transform="translate(96.85,167.42) scale(1.1219,1)" font-size="11.93" font-weight="bold" fill="#000" stroke="#000" stroke-width="0.31">40</text>
<text transform="translate(147.32,167.42) scale(1.1400,1)" font-size="11.93" font-weight="bold" fill="#000" stroke="#000" stroke-width="0.31">80</text>
<text transform="translate(194.80,167.42) scale(1.0944,1)" font-size="11.93" font-weight="bold" fill="#000" stroke="#000" stroke-width="0.32">120</text>
<text transform="translate(245.62,167.42) scale(1.0730,1)" font-size="11.93" font-weight="bold" fill="#000" stroke="#000" stroke-width="0.33">160</text>
<text transform="translate(93.91,193.24) scale(0.9609,1)" font-size="13.91" font-weight="bold" fill="#000" stroke="#000" stroke-width="0.36">Capacity ( mAh/g )</text>
<text transform="translate(19.11,126.76) rotate(-90) scale(1.0489,1)" font-size="13.58" font-weight="bold" fill="#000" stroke="#000" stroke-width="0.33">Voltage ( V )</text>
<text transform="translate(96.91,97.70) scale(0.9588,1)" font-size="12.29" font-weight="bold" fill="#000" stroke="#000" stroke-width="0.21">1</text>
<text transform="translate(97.77,115.70) scale(1.1134,1)" font-size="11.71" font-weight="bold" fill="#000" stroke="#000" stroke-width="0.18">2</text>
<text transform="translate(97.54,131.43) scale(1.0823,1)" font-size="11.78" font-weight="normal" fill="#222" stroke="#222" stroke-width="0.14">3</text>
<text transform="translate(262.58,13.00) scale(1.0295,1)" font-size="11.62" font-weight="bold" fill="#000" stroke="#000" stroke-width="0.34">(B)</text>
<text transform="translate(285.56,25.32) scale(1.1709,1)" font-size="11.05" font-weight="bold" fill="#000" stroke="#000" stroke-width="0.30">4.0</text>
<text transform="translate(285.34,57.53) scale(1.1407,1)" font-size="11.34" font-weight="bold" fill="#000" stroke="#000" stroke-width="0.31">3.5</text>
<text transform="translate(285.34,90.53) scale(1.1703,1)" font-size="11.20" font-weight="bold" fill="#000" stroke="#000" stroke-width="0.30">3.0</text>
<text transform="translate(285.34,122.73) scale(1.1407,1)" font-size="11.34" font-weight="bold" fill="#000" stroke="#000" stroke-width="0.31">2.5</text>
<text transform="translate(285.34,155.62) scale(1.1404,1)" font-size="11.49" font-weight="bold" fill="#000" stroke="#000" stroke-width="0.31">2.0</text>
<text transform="translate(305.40,167.42) scale(1.2056,1)" font-size="11.93" font-weight="bold" fill="#000" stroke="#000" stroke-width="0.29">0</text>
<text transform="translate(352.85,167.42) scale(1.1219,1)" font-size="11.93" font-weight="bold" fill="#000" stroke="#000" stroke-width="0.31">40</text>
<text transform="translate(403.32,167.42) scale(1.1400,1)" font-size="11.93" font-weight="bold" fill="#000" stroke="#000" stroke-width="0.31">80</text>
<text transform="translate(450.80,167.42) scale(1.0944,1)" font-size="11.93" font-weight="bold" fill="#000" stroke="#000" stroke-width="0.32">120</text>
<text transform="translate(501.62,167.42) scale(1.0730,1)" font-size="11.93" font-weight="bold" fill="#000" stroke="#000" stroke-width="0.33">160</text>
<text transform="translate(349.91,193.24) scale(0.9609,1)" font-size="13.91" font-weight="bold" fill="#000" stroke="#000" stroke-width="0.36">Capacity ( mAh/g )</text>
<text transform="translate(275.11,126.76) rotate(-90) scale(1.0489,1)" font-size="13.58" font-weight="bold" fill="#000" stroke="#000" stroke-width="0.33">Voltage ( V )</text>
<text transform="translate(351.27,97.70) scale(1.0111,1)" font-size="12.29" font-weight="bold" fill="#000" stroke="#000" stroke-width="0.20">1</text>
<text transform="translate(352.17,115.70) scale(1.1134,1)" font-size="11.71" font-weight="bold" fill="#000" stroke="#000" stroke-width="0.18">2</text>
<text transform="translate(351.92,131.43) scale(1.1187,1)" font-size="11.78" font-weight="normal" fill="#222" stroke="#222" stroke-width="0.13">3</text>
<text transform="translate(119.08,44.55) scale(0.8847,1)" font-size="16.39" font-weight="bold" fill="#ff0000" stroke="#ff0000" stroke-width="0.11">LCO</text>
<text transform="translate(337.57,46.52) scale(1.1198,1)" font-size="12.06" font-weight="bold" fill="#000" stroke="#000" stroke-width="0.31">LLZO&amp;LNO@LCO</text>
<text transform="translate(6.56,208.31) scale(1.1121,1)" font-size="9.93" font-weight="normal" fill="#000" stroke="#000" stroke-width="0.36">(C)</text>
<text transform="translate(23.49,221.32) scale(1.0711,1)" font-size="12.37" font-weight="bold" fill="#000" stroke="#000" stroke-width="0.33">150</text>
<text transform="translate(23.26,264.72) scale(1.1072,1)" font-size="12.37" font-weight="bold" fill="#000" stroke="#000" stroke-width="0.32">100</text>
<text transform="translate(31.84,308.22) scale(1.0967,1)" font-size="11.78" font-weight="bold" fill="#000" stroke="#000" stroke-width="0.32">50</text>
<text transform="translate(39.59,352.82) scale(0.9996,1)" font-size="11.49" font-weight="bold" fill="#000" stroke="#000" stroke-width="0.35">0</text>
<text transform="translate(48.39,363.12) scale(0.9801,1)" font-size="11.93" font-weight="bold" fill="#000" stroke="#000" stroke-width="0.36">0</text>
<text transform="translate(89.38,363.12) scale(0.9474,1)" font-size="11.93" font-weight="bold" fill="#000" stroke="#000" stroke-width="0.37">5</text>
<text transform="translate(125.94,363.12) scale(1.1277,1)" font-size="11.93" font-weight="bold" fill="#000" stroke="#000" stroke-width="0.31">10</text>
<text transform="translate(166.93,363.12) scale(1.1092,1)" font-size="11.93" font-weight="bold" fill="#000" stroke="#000" stroke-width="0.32">15</text>
<text transform="translate(208.36,363.12) scale(1.0913,1)" font-size="11.93" font-weight="bold" fill="#000" stroke="#000" stroke-width="0.32">20</text>
<text transform="translate(249.35,363.12) scale(1.0740,1)" font-size="11.93" font-weight="bold" fill="#000" stroke="#000" stroke-width="0.33">25</text>
<text transform="translate(123.63,388.23) scale(1.0368,1)" font-size="12.87" font-weight="normal" fill="#000" stroke="#000" stroke-width="0.58">Cycles (n)</text>
<text transform="translate(13.78,338.42) rotate(-90) scale(1.1853,1)" font-size="12.11" font-weight="normal" fill="#000" stroke="#000" stroke-width="0.51">Capaciyty (mAh/g)</text>
<text transform="translate(264.14,208.64) scale(1.1107,1)" font-size="11.40" font-weight="bold" fill="#000" stroke="#000" stroke-width="0.32">(D)</text>
<text transform="translate(286.63,349.85) scale(1.3757,1)" font-size="9.22" font-weight="bold" fill="#ff0000" stroke="#ff0000" stroke-width="0.22">0.0</text>
<text transform="translate(512.29,350.70) scale(1.2935,1)" font-size="9.51" font-weight="normal" fill="#111" stroke="#111" stroke-width="0.15">0.0</text>
<text transform="translate(286.63,328.05) scale(1.3757,1)" font-size="9.22" font-weight="bold" fill="#ff0000" stroke="#ff0000" stroke-width="0.22">0.2</text>
<text transform="translate(512.28,328.90) scale(1.3101,1)" font-size="9.51" font-weight="normal" fill="#111" stroke="#111" stroke-width="0.15">0.2</text>
<text transform="translate(286.64,306.25) scale(1.3418,1)" font-size="9.22" font-weight="bold" fill="#ff0000" stroke="#ff0000" stroke-width="0.22">0.4</text>
<text transform="translate(512.30,307.10) scale(1.2773,1)" font-size="9.51" font-weight="normal" fill="#111" stroke="#111" stroke-width="0.16">0.4</text>
<text transform="translate(286.63,284.45) scale(1.3757,1)" font-size="9.22" font-weight="bold" fill="#ff0000" stroke="#ff0000" stroke-width="0.22">0.6</text>
<text transform="translate(512.29,285.30) scale(1.2935,1)" font-size="9.51" font-weight="normal" fill="#111" stroke="#111" stroke-width="0.15">0.6</text>
<text transform="translate(286.63,262.65) scale(1.3757,1)" font-size="9.22" font-weight="bold" fill="#ff0000" stroke="#ff0000" stroke-width="0.22">0.8</text>
<text transform="translate(512.29,263.50) scale(1.2935,1)" font-size="9.51" font-weight="normal" fill="#111" stroke="#111" stroke-width="0.15">0.8</text>
<text transform="translate(286.18,240.85) scale(1.4115,1)" font-size="9.22" font-weight="bold" fill="#ff0000" stroke="#ff0000" stroke-width="0.21">1.0</text>
<text transform="translate(511.63,241.70) scale(1.3445,1)" font-size="9.51" font-weight="normal" fill="#111" stroke="#111" stroke-width="0.15">1.0</text>
<text transform="translate(286.18,219.05) scale(1.4115,1)" font-size="9.22" font-weight="bold" fill="#ff0000" stroke="#ff0000" stroke-width="0.21">1.2</text>
<text transform="translate(511.62,219.90) scale(1.3625,1)" font-size="9.51" font-weight="normal" fill="#111" stroke="#111" stroke-width="0.15">1.2</text>
<text transform="translate(305.26,359.22) scale(1.3042,1)" font-size="9.44" font-weight="bold" fill="#000" stroke="#000" stroke-width="0.27">0</text>
<text transform="translate(364.88,359.22) scale(1.2612,1)" font-size="9.44" font-weight="bold" fill="#000" stroke="#000" stroke-width="0.28">100</text>
<text transform="translate(431.55,359.22) scale(1.3408,1)" font-size="9.44" font-weight="bold" fill="#000" stroke="#000" stroke-width="0.26">200</text>
<text transform="translate(498.25,359.22) scale(1.3408,1)" font-size="9.44" font-weight="bold" fill="#000" stroke="#000" stroke-width="0.26">300</text>
<text transform="translate(357.35,380.56) scale(0.9709,1)" font-size="12.44" font-weight="bold" fill="#000" stroke="#000" stroke-width="0.10">Cycle number (n)</text>
<text transform="translate(337.51,320.77) scale(0.9023,1)" font-size="15.48" font-weight="bold" fill="#000" stroke="#000" stroke-width="0.17">25°C 0.05C/0.05C</text>
<text transform="translate(276.71,326.74) rotate(-90) scale(0.9467,1)" font-size="11.45" font-weight="bold" fill="#ff0000">Capacity Retension</text>
<text transform="translate(541.65,335.66) rotate(-90) scale(1.1990,1)" font-size="8.89" font-weight="bold" fill="#000" stroke="#000" stroke-width="0.29">Coulombic Efficiency</text>
</svg></body></html>
